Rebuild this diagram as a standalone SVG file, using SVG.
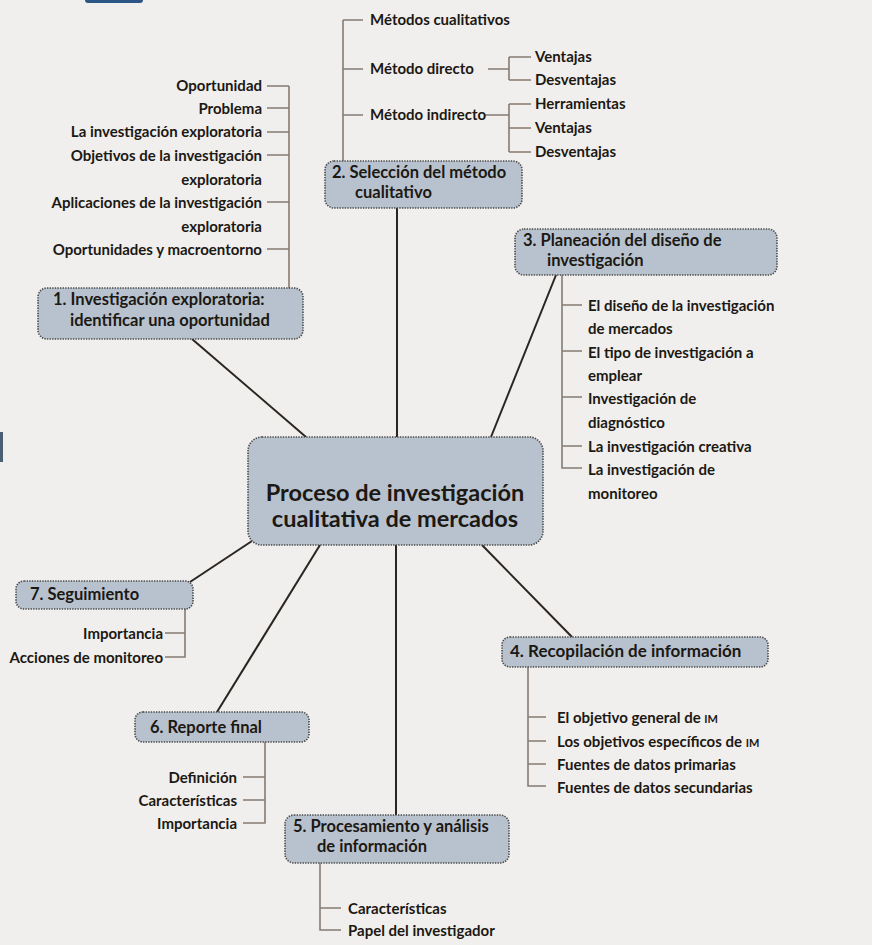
<svg xmlns="http://www.w3.org/2000/svg" width="872" height="945" viewBox="0 0 872 945">
<style>
.bg{fill:#f0efed}
.box{fill:#b7c2ce;stroke:#4a4a4a;stroke-width:1.6;stroke-dasharray:1.4 1.2}
.t{font-family:Lato,"Open Sans","Liberation Sans",sans-serif;font-weight:700;fill:#1c1813}
.n{font-size:16.5px}
.l{font-size:15px}
.c{font-size:23.5px}
.e{text-anchor:end}
.br{fill:none;stroke:#857b73;stroke-width:1.6}
.cn{fill:none;stroke:#2a2520;stroke-width:2}
.sc{font-size:11px}
</style>
<rect class="bg" x="0" y="0" width="872" height="945"/>
<rect x="85" y="-6" width="58" height="9" rx="3" fill="#2b5686"/>
<rect x="0" y="432" width="3" height="30" fill="#4b5f73"/>

<g id="connectors">
<line class="cn" x1="192" y1="339" x2="306" y2="437"/>
<line class="cn" x1="397" y1="208" x2="397" y2="437"/>
<line class="cn" x1="556" y1="275" x2="491" y2="437"/>
<line class="cn" x1="252" y1="541" x2="190" y2="582"/>
<line class="cn" x1="320" y1="545" x2="217" y2="712"/>
<line class="cn" x1="396" y1="545" x2="396" y2="815"/>
<line class="cn" x1="482" y1="545" x2="572" y2="637"/>
</g>

<g id="center">
<rect class="box" x="248" y="437" width="295" height="108" rx="14"/>
<text class="t c" x="395" y="501" text-anchor="middle">Proceso de investigación</text>
<text class="t c" x="395" y="527" text-anchor="middle">cualitativa de mercados</text>
</g>

<g id="node1">
<path class="br" d="M289 86V288M267 86H289M267 108H289M267 132H289M267 155H289M267 202H289M267 249H289"/>
<text class="t l e" x="262" y="91">Oportunidad</text>
<text class="t l e" x="262" y="114">Problema</text>
<text class="t l e" x="262" y="137">La investigación exploratoria</text>
<text class="t l e" x="262" y="161">Objetivos de la investigación</text>
<text class="t l e" x="262" y="185">exploratoria</text>
<text class="t l e" x="262" y="208">Aplicaciones de la investigación</text>
<text class="t l e" x="262" y="232">exploratoria</text>
<text class="t l e" x="262" y="255">Oportunidades y macroentorno</text>
<rect class="box" x="38" y="288" width="265" height="51" rx="9"/>
<text class="t n" x="53" y="305">1. Investigación exploratoria:</text>
<text class="t n" x="70" y="326">identificar una oportunidad</text>
</g>

<g id="node2">
<path class="br" d="M343 20V162M343 20H363M343 69H363M343 115H363M488 69H509M509 57V80M509 57H531M509 80H531M485 115H509M509 104V152M509 104H531M509 128H531M509 152H531"/>
<text class="t l" x="370" y="25">Métodos cualitativos</text>
<text class="t l" x="370" y="74">Método directo</text>
<text class="t l" x="370" y="120">Método indirecto</text>
<text class="t l" x="535" y="62">Ventajas</text>
<text class="t l" x="535" y="85">Desventajas</text>
<text class="t l" x="535" y="109">Herramientas</text>
<text class="t l" x="535" y="133">Ventajas</text>
<text class="t l" x="535" y="157">Desventajas</text>
<rect class="box" x="325" y="161" width="197" height="47" rx="9"/>
<text class="t n" x="332" y="178">2. Selección del método</text>
<text class="t n" x="355" y="198">cualitativo</text>
</g>

<g id="node3">
<path class="br" d="M562 275V468H582M562 305H582M562 351H582M562 397H582M562 446H582"/>
<rect class="box" x="515" y="229" width="262" height="46" rx="9"/>
<text class="t n" x="523" y="246">3. Planeación del diseño de</text>
<text class="t n" x="547" y="266">investigación</text>
<text class="t l" x="588" y="311">El diseño de la investigación</text>
<text class="t l" x="588" y="334">de mercados</text>
<text class="t l" x="588" y="358">El tipo de investigación a</text>
<text class="t l" x="588" y="381">emplear</text>
<text class="t l" x="588" y="404">Investigación de</text>
<text class="t l" x="588" y="428">diagnóstico</text>
<text class="t l" x="588" y="452">La investigación creativa</text>
<text class="t l" x="588" y="475">La investigación de</text>
<text class="t l" x="588" y="499">monitoreo</text>
</g>

<g id="node4">
<path class="br" d="M528 667V786H546M528 717H546M528 741H546M528 764H546"/>
<rect class="box" x="502" y="637" width="266" height="30" rx="8"/>
<text class="t n" x="510" y="657" style="font-size:17px">4. Recopilación de información</text>
<text class="t l" x="557" y="723">El objetivo general de <tspan class="sc">IM</tspan></text>
<text class="t l" x="557" y="747">Los objetivos específicos de <tspan class="sc">IM</tspan></text>
<text class="t l" x="557" y="770">Fuentes de datos primarias</text>
<text class="t l" x="557" y="793">Fuentes de datos secundarias</text>
</g>

<g id="node5">
<path class="br" d="M320 863V930H341M320 908H341"/>
<rect class="box" x="285" y="815" width="224" height="48" rx="9"/>
<text class="t n" x="293" y="832">5. Procesamiento y análisis</text>
<text class="t n" x="317" y="852">de información</text>
<text class="t l" x="348" y="914">Características</text>
<text class="t l" x="348" y="936">Papel del investigador</text>
</g>

<g id="node6">
<path class="br" d="M265 742V823H243M243 777H265M243 800H265"/>
<rect class="box" x="135" y="712" width="174" height="30" rx="8"/>
<text class="t n" x="150" y="733">6. Reporte final</text>
<text class="t l e" x="237" y="783">Definición</text>
<text class="t l e" x="237" y="806">Características</text>
<text class="t l e" x="237" y="829">Importancia</text>
</g>

<g id="node7">
<path class="br" d="M185 609V657H165M165 633H185"/>
<rect class="box" x="16" y="581" width="177" height="28" rx="8"/>
<text class="t n" x="30" y="600">7. Seguimiento</text>
<text class="t l e" x="163" y="639">Importancia</text>
<text class="t l e" x="163" y="663">Acciones de monitoreo</text>
</g>
</svg>
